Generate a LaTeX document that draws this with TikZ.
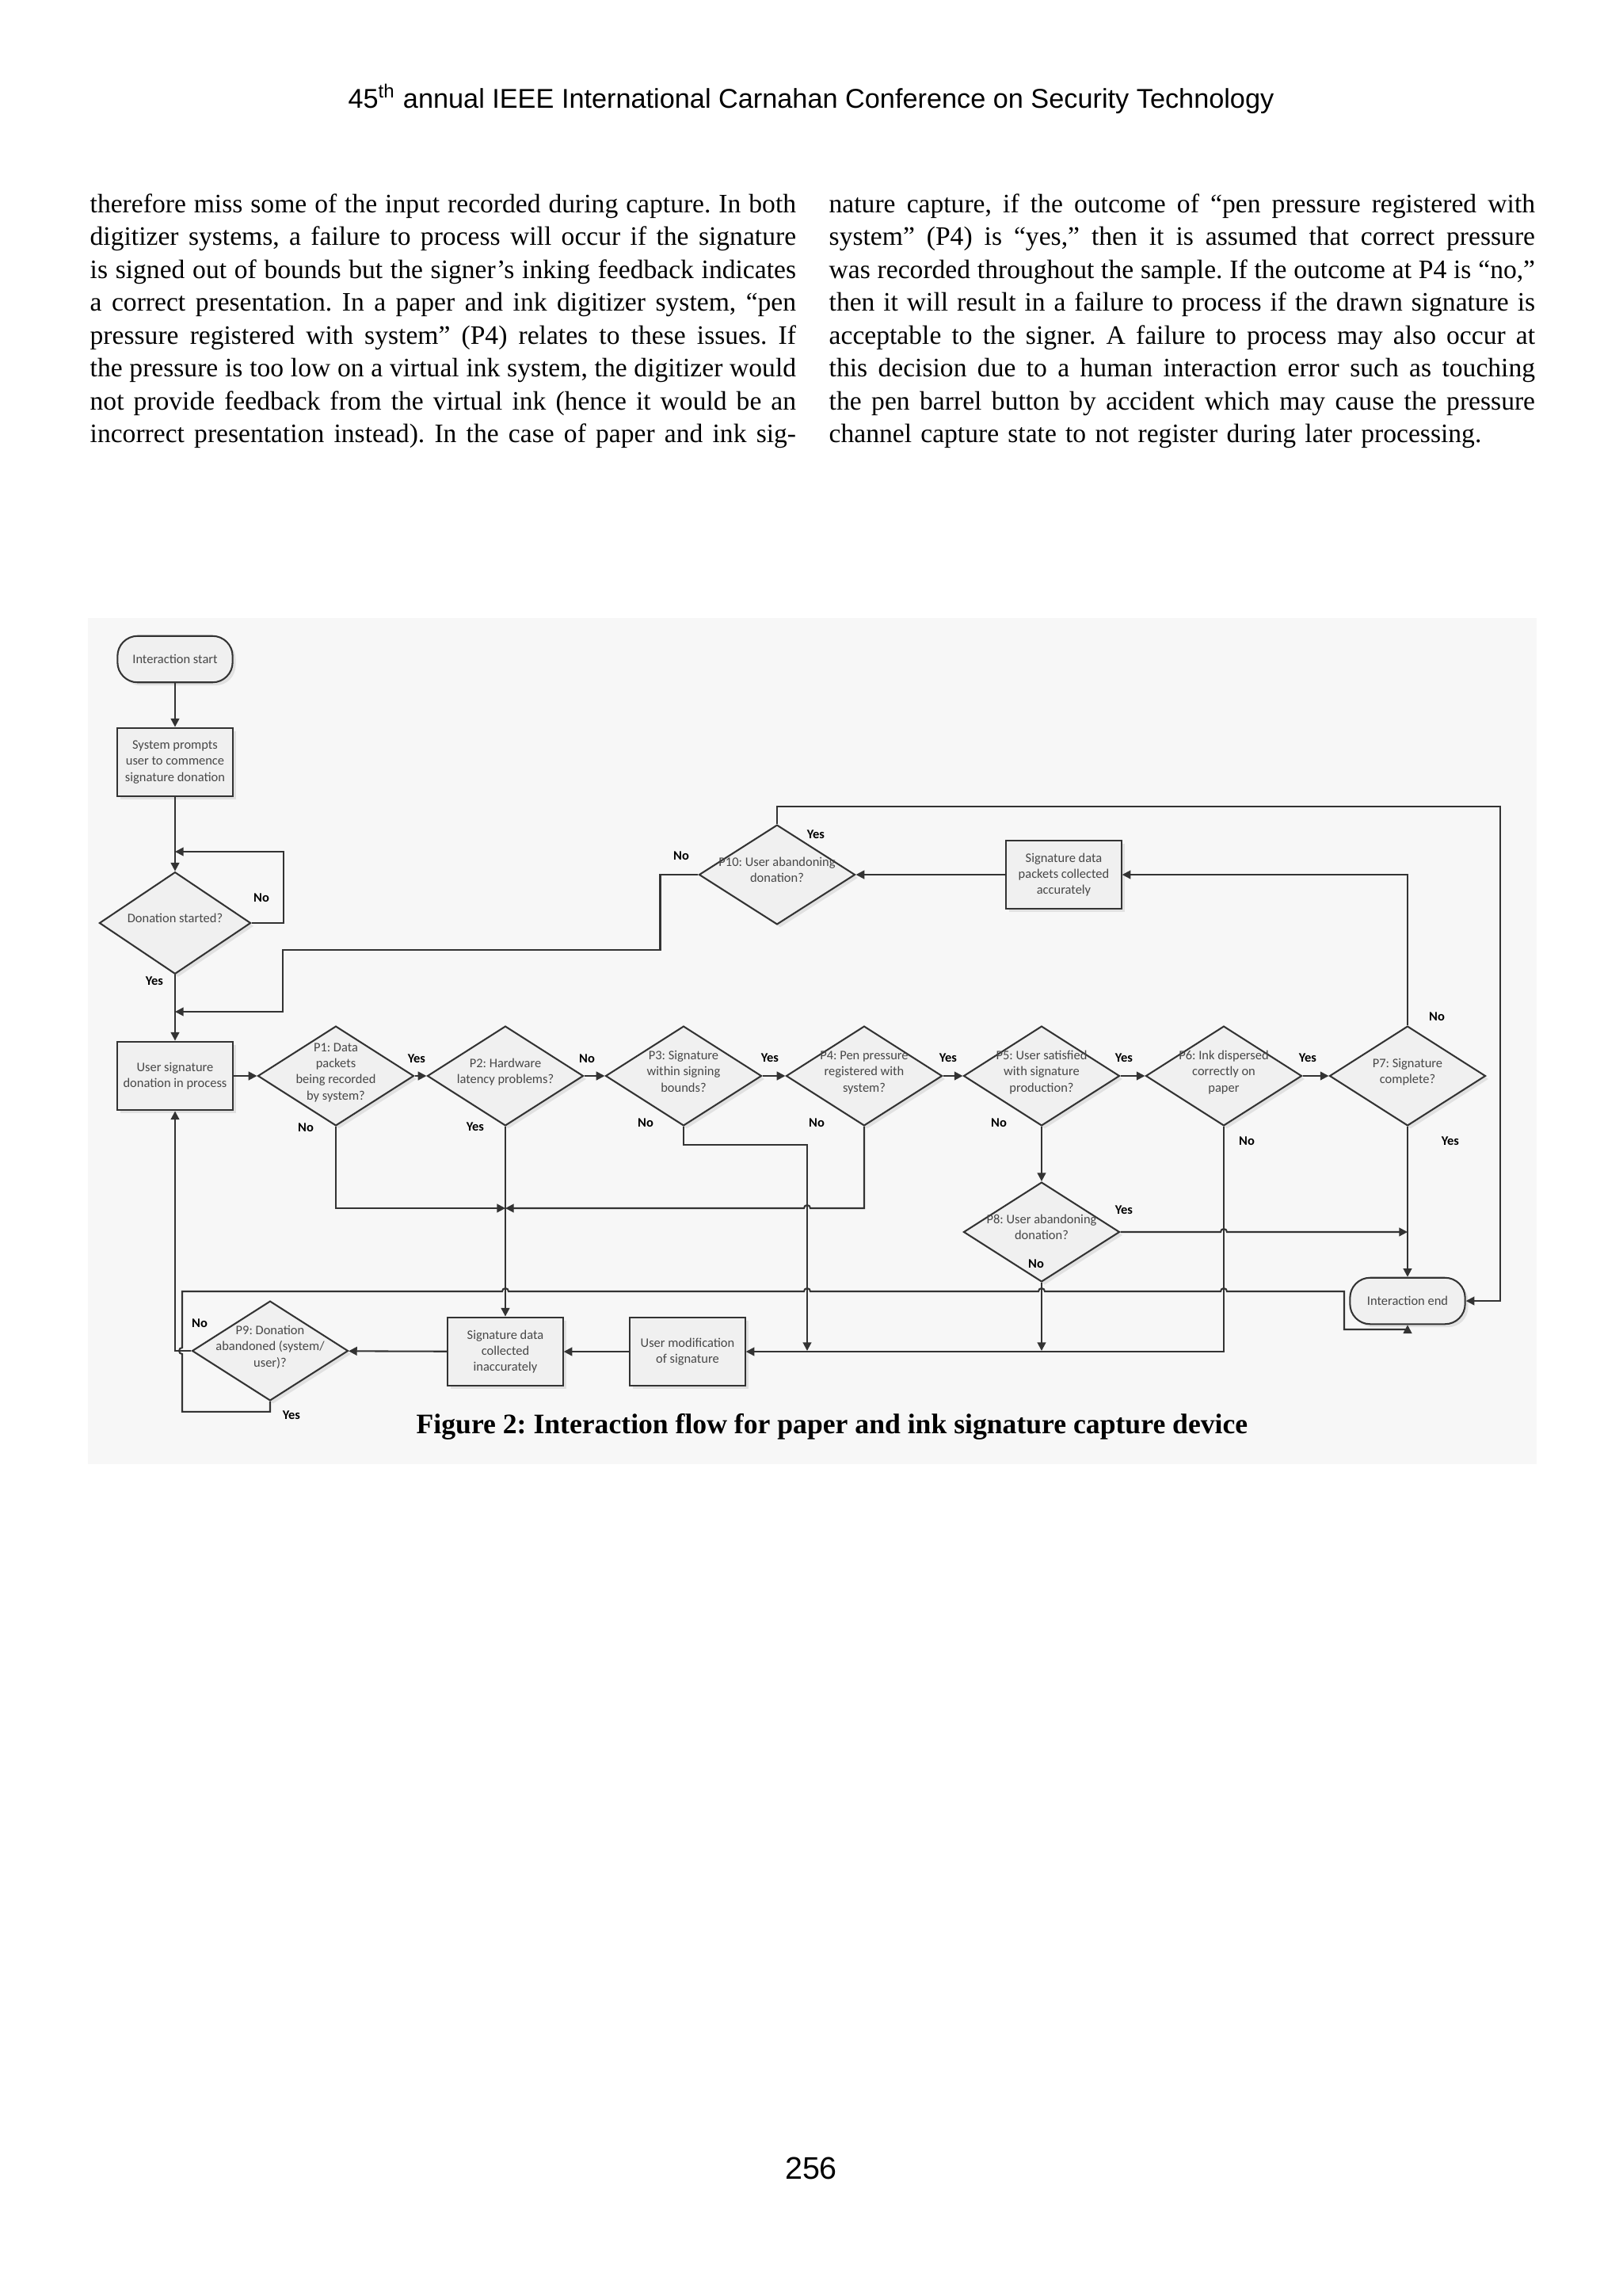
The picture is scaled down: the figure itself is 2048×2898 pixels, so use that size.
\documentclass[tikz,border=0pt]{standalone}
\usepackage{fontspec}
\setmainfont{Liberation Serif}
\newfontfamily\headfont{Liberation Sans}
\newfontfamily\chartfont{Carlito}
\usetikzlibrary{shapes.geometric,arrows.meta,shadows}
\frenchspacing

\newdimen\colw \colw=9.14cm
\newcommand{\fullline}[1]{\leavevmode\hbox to\colw{\spaceskip=0.25em plus 0.3em minus 0.1em\relax #1}}
\newcommand{\dtext}[1]{\makebox[0pt]{\smash{\begin{tabular}{@{}c@{}}#1\end{tabular}}}}

\begin{document}
\begin{tikzpicture}[
        x=0.01025cm, y=-0.01025cm,
        chart/.style={font=\chartfont\fontsize{4.8}{5.9}\selectfont, text=black!72},
        shapebase/.style={chart, draw=black!80, line width=0.6pt, fill=black!6,
            drop shadow={shadow xshift=0.4mm, shadow yshift=-0.4mm, opacity=0.18}},
        box/.style={shapebase, align=center, inner sep=1pt, minimum width=1.49cm, minimum height=0.89cm},
        dia/.style={shapebase, diamond, inner sep=0pt, minimum width=2.02cm, minimum height=1.29cm},
        term/.style={box, rounded corners=2.6mm, minimum height=0.6cm},
        lbl/.style={font=\chartfont\bfseries\fontsize{4.8}{5.9}\selectfont, inner sep=0pt},
        flow/.style={draw=black!80, line width=0.6pt},
        arr/.style={flow, -{Triangle[length=1.1mm, width=1.1mm]}},
        body/.style={font=\fontsize{9.8}{12.1}\selectfont, inner sep=0pt, text width=\colw, align=left},
    ]
    \useasboundingbox (0,0) rectangle (2048,2898);
    \fill[white] (0,0) rectangle (2048,2898);

    % page header and text
    \node[font=\headfont\fontsize{10}{12}\selectfont, anchor=base] (head) at (1024,136)
        {45\textsuperscript{th} annual IEEE International Carnahan Conference on Security Technology};
    \node[body, anchor=north west] (colL) at (113,244) {%
        \fullline{therefore miss some of the input recorded during capture. In both}\\
        \fullline{digitizer systems, a failure to process will occur if the signature}\\
        \fullline{is signed out of bounds but the signer’s inking feedback indicates}\\
        \fullline{a correct presentation. In a paper and ink digitizer system, “pen}\\
        \fullline{pressure registered with system” (P4) relates to these issues. If}\\
        \fullline{the pressure is too low on a virtual ink system, the digitizer would}\\
        \fullline{not provide feedback from the virtual ink (hence it would be an}\\
        \fullline{incorrect presentation instead). In the case of paper and ink sig-}};
    \node[body, anchor=north west] (colR) at (1046,244) {%
        \fullline{nature capture, if the outcome of “pen pressure registered with}\\
        \fullline{system” (P4) is “yes,” then it is assumed that correct pressure}\\
        \fullline{was recorded throughout the sample. If the outcome at P4 is “no,”}\\
        \fullline{then it will result in a failure to process if the drawn signature is}\\
        \fullline{acceptable to the signer. A failure to process may also occur at}\\
        \fullline{this decision due to a human interaction error such as touching}\\
        \fullline{the pen barrel button by accident which may cause the pressure}\\
        channel capture state to not register during later processing.};

    % figure
    \fill[black!3] (111,780) rectangle (1940,1848);

    \node[term] (start) at (221,832) {Interaction start};
    \node[box] (prompt) at (221,962) {System prompts\\user to commence\\signature donation};
    \node[dia, minimum width=1.96cm, minimum height=1.32cm] (started) at (221,1165) {\dtext{Donation started?}};
    \node[box] (usersig) at (221,1358) {User signature\\donation in process};

    \node[dia] (p1) at (424,1358) {\dtext{P1: Data\\packets\\being recorded\\by system?}};
    \node[dia] (p2) at (638,1358) {\dtext{P2: Hardware\\latency problems?}};
    \node[dia] (p3) at (863,1358) {\dtext{P3: Signature\\within signing\\bounds?}};
    \node[dia] (p4) at (1091,1358) {\dtext{P4: Pen pressure\\registered with\\system?}};
    \node[dia] (p5) at (1315,1358) {\dtext{P5: User satisfied\\with signature\\production?}};
    \node[dia] (p6) at (1545,1358) {\dtext{P6: Ink dispersed\\correctly on\\paper}};
    \node[dia] (p7) at (1777,1358) {\dtext{P7: Signature\\complete?}};
    \node[dia] (p8) at (1315,1555) {\dtext{P8: User abandoning\\donation?}};
    \node[dia] (p9) at (341,1705) {\dtext{P9: Donation\\abandoned (system/\\user)?}};
    \node[dia] (p10) at (981,1104) {\dtext{P10: User abandoning\\donation?}};

    \node[box] (accurate) at (1343,1104) {Signature data\\packets collected\\accurately};
    \node[box] (inaccurate) at (638,1706) {Signature data\\collected\\inaccurately};
    \node[box] (modif) at (868,1706) {User modification\\of signature};
    \node[term] (end) at (1777,1642) {Interaction end};

    \coordinate (loopin) at (221,1075);
    \coordinate (backin) at (221,1277);
    \coordinate (joinA) at (638,1525);
    \coordinate (joinB) at (1019,1705);
    \coordinate (joinC) at (1315,1705);
    \coordinate (joinD) at (1777,1555);

    % connectors
    \draw[arr] (start) -- (prompt);
    \draw[arr] (prompt) -- (started);
    \draw[arr] (started) -- (usersig);
    \draw[arr] (started.east) -- ++(40,0) |- (loopin);
    \draw[arr] (p10.west) -- ++(-48,0) -- ++(0,95) -| (357,1277) -- (backin);
    \draw[arr] (usersig) -- (p1);
    \draw[arr] (p1) -- (p2);
    \draw[arr] (p2) -- (p3);
    \draw[arr] (p3) -- (p4);
    \draw[arr] (p4) -- (p5);
    \draw[arr] (p5) -- (p6);
    \draw[arr] (p6) -- (p7);
    \draw[arr] (p1.south) |- (joinA);
    \draw[arr] (p4.south) |- (1023,1525) arc[start angle=0, end angle=-180, radius=4] -- (joinA);
    \draw[arr] (p2) -- (inaccurate);
    \draw[arr] (p3.south) -- ++(0,23) -| (joinB);
    \draw[arr] (p5) -- (p8);
    \draw[arr] (p8.east) -- (1541,1555) arc[start angle=180, end angle=360, radius=4] -- (joinD);
    \draw[arr] (p8.south) -- (joinC);
    \draw[arr] (p6.south) |- (modif.east);
    \draw[arr] (modif) -- (inaccurate);
    \draw[arr] (inaccurate) -- (p9);
    \draw[arr] (p9.west) -| (usersig.south);
    \draw[arr] (p9.south) -- ++(0,13) -| (230,1709) arc[start angle=90, end angle=270, radius=4]
        -- (230,1630) -- (634,1630) arc[start angle=180, end angle=360, radius=4]
        -- (1015,1630) arc[start angle=180, end angle=360, radius=4]
        -- (1311,1630) arc[start angle=180, end angle=360, radius=4]
        -- (1541,1630) arc[start angle=180, end angle=360, radius=4]
        -- (1697,1630) -- (1697,1678) -| (end.south);
    \draw[arr] (p7) -- (end);
    \draw[arr] (p7.north) |- (accurate.east);
    \draw[arr] (accurate) -- (p10);
    \draw[arr] (p10.north) -- ++(0,-22) -| (1894,1642) -- (end.east);

    % yes / no labels
    \node[lbl] (nLoop) at (330,1133) {No};
    \node[lbl] (yStart) at (195,1238) {Yes};
    \node[lbl] (y10) at (1030,1053) {Yes};
    \node[lbl] (n10) at (860,1080) {No};
    \node[lbl] (y1) at (526,1336) {Yes};
    \node[lbl] (n2) at (741,1336) {No};
    \node[lbl] (y3) at (972,1335) {Yes};
    \node[lbl] (y4) at (1197,1335) {Yes};
    \node[lbl] (y5) at (1419,1335) {Yes};
    \node[lbl] (y6) at (1651,1335) {Yes};
    \node[lbl] (n1) at (386,1423) {No};
    \node[lbl] (y2) at (600,1422) {Yes};
    \node[lbl] (n3) at (815,1417) {No};
    \node[lbl] (n4) at (1031,1417) {No};
    \node[lbl] (n5) at (1261,1417) {No};
    \node[lbl] (n6) at (1574,1440) {No};
    \node[lbl] (y7) at (1831,1440) {Yes};
    \node[lbl] (n7) at (1814,1283) {No};
    \node[lbl] (y8) at (1419,1527) {Yes};
    \node[lbl] (n8) at (1308,1595) {No};
    \node[lbl] (n9) at (252,1670) {No};
    \node[lbl] (y9) at (368,1786) {Yes};

    \node[font=\bfseries\fontsize{10.4}{12}\selectfont, anchor=base west, inner sep=0pt] (caption) at (525,1809)
        {Figure 2: Interaction flow for paper and ink signature capture device};
    \node[font=\headfont\fontsize{11.5}{13}\selectfont, anchor=base] (pagenum) at (1024,2750) {256};
\end{tikzpicture}
\end{document}
